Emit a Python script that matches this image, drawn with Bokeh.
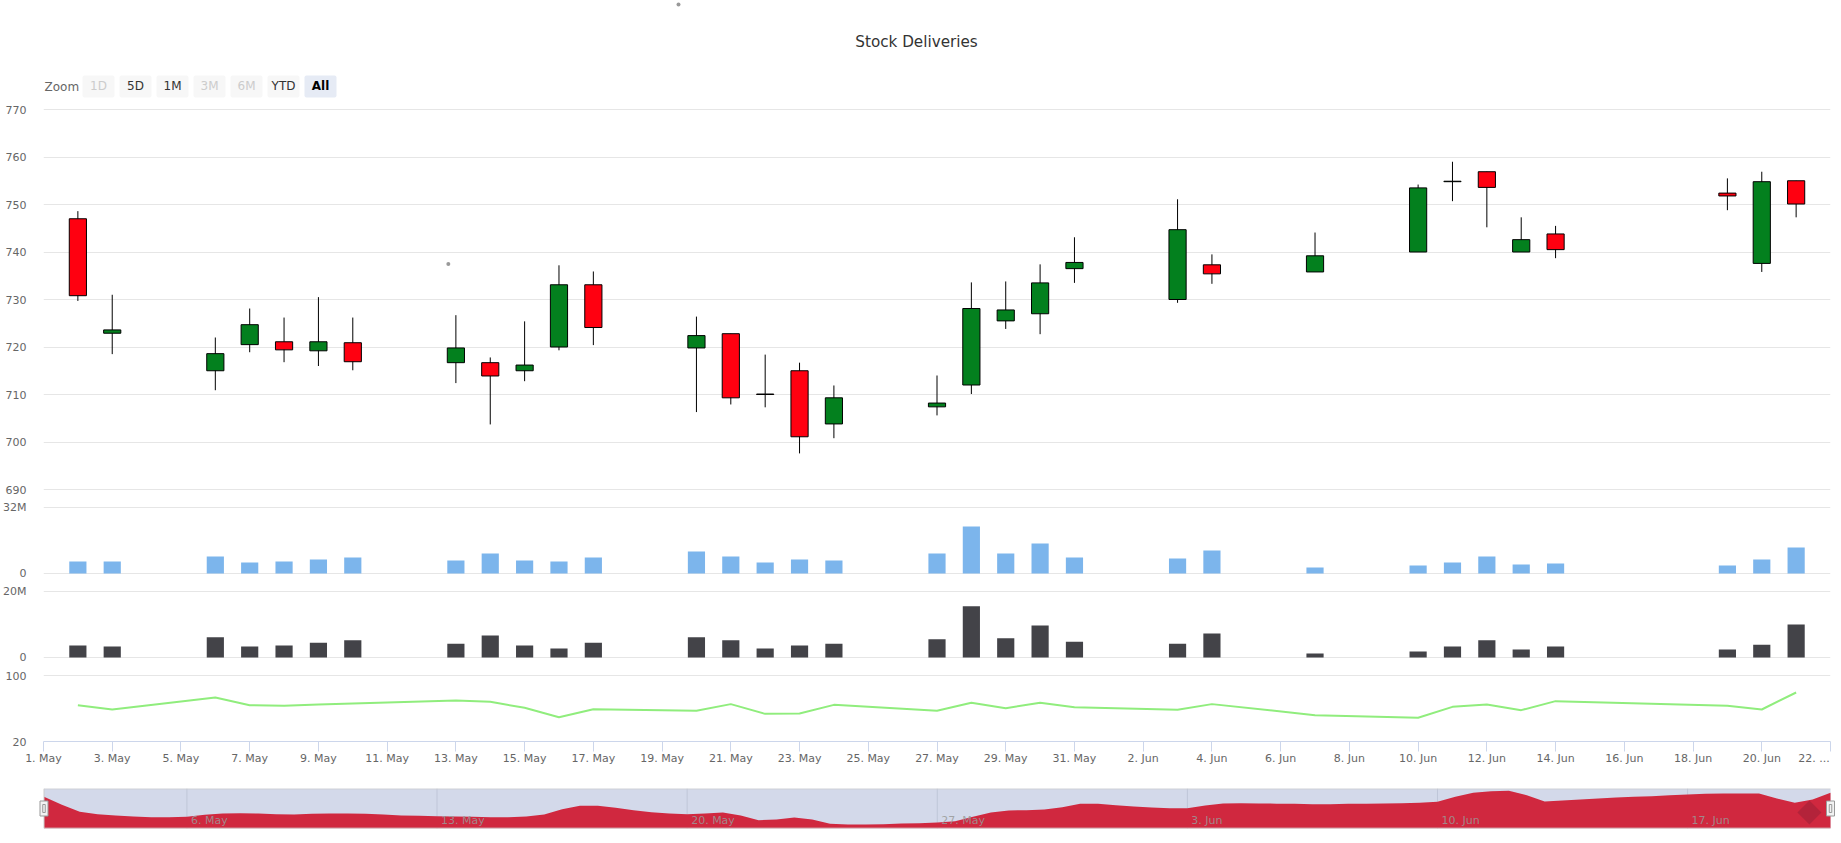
import pandas as pd
from bokeh.core.properties import value
from bokeh.embed import file_html
from bokeh.resources import INLINE
from bokeh.layouts import column
from bokeh.models import Range1d, FixedTicker, LinearAxis
from bokeh.plotting import figure

FONT = "DejaVu Sans"

dates = ["2019-05-02", "2019-05-03", "2019-05-06", "2019-05-07", "2019-05-08", "2019-05-09", "2019-05-10",
         "2019-05-13", "2019-05-14", "2019-05-15", "2019-05-16", "2019-05-17",
         "2019-05-20", "2019-05-21", "2019-05-22", "2019-05-23", "2019-05-24",
         "2019-05-27", "2019-05-28", "2019-05-29", "2019-05-30", "2019-05-31",
         "2019-06-03", "2019-06-04", "2019-06-07",
         "2019-06-10", "2019-06-11", "2019-06-12", "2019-06-13", "2019-06-14",
         "2019-06-19", "2019-06-20", "2019-06-21"]
open_ = [730.8, 723.6, 718.6, 724.7, 719.4, 721.1, 716.9,
         719.8, 713.9, 716.2, 733.1, 724.1,
         722.4, 709.3, 710.0, 701.1, 709.3,
         708.2, 728.1, 727.8, 733.5, 737.8,
         744.7, 735.4, 739.2,
         753.5, 754.9, 753.6, 742.6, 740.5,
         751.8, 754.8, 750.1]
high = [748.6, 731.0, 722.0, 728.1, 726.2, 730.5, 726.2,
        726.7, 717.8, 725.4, 737.2, 735.9,
        726.4, 722.8, 718.4, 716.7, 711.9,
        714.0, 733.6, 733.8, 737.4, 743.1,
        751.1, 739.5, 744.1,
        754.2, 759.0, 756.9, 747.3, 745.5,
        755.5, 756.9, 755.0]
low = [729.7, 718.5, 710.9, 718.9, 716.8, 716.0, 715.1,
       712.4, 703.7, 712.8, 719.3, 720.4,
       706.3, 707.9, 707.3, 697.6, 700.8,
       705.6, 710.1, 723.8, 722.7, 733.5,
       729.3, 733.3, 735.8,
       740.0, 750.7, 745.2, 740.0, 738.7,
       748.8, 735.8, 747.3]
close = [747.0, 722.9, 715.0, 720.5, 721.1, 719.2, 720.9,
         716.7, 716.7, 715.0, 720.0, 733.1,
         719.8, 722.8, 710.1, 715.0, 703.8,
         707.4, 712.0, 725.5, 727.0, 736.5,
         730.0, 737.3, 735.8,
         740.0, 754.8, 756.9, 740.0, 743.8,
         752.4, 737.6, 755.0]
volume_m = [5.8, 5.8, 8.2, 5.3, 5.8, 6.8, 7.8,
            6.3, 9.7, 6.3, 5.8, 7.8,
            10.7, 8.2, 5.3, 6.8, 6.3,
            9.7, 22.8, 9.7, 14.5, 7.8,
            7.3, 11.2, 2.9,
            3.9, 5.3, 8.2, 4.4, 4.8,
            3.9, 6.8, 12.6]
deliveries_m = [3.6, 3.3, 6.1, 3.3, 3.6, 4.5, 5.2,
                4.2, 6.7, 3.6, 2.7, 4.5,
                6.1, 5.2, 2.7, 3.6, 4.2,
                5.5, 15.5, 5.8, 9.7, 4.8,
                4.2, 7.3, 1.2,
                1.8, 3.3, 5.2, 2.4, 3.3,
                2.4, 3.9, 10.0]
delivery_pct = [64.0, 58.8, 73.3, 64.0, 63.2, 64.8, 66.0,
                69.7, 68.1, 60.8, 49.5, 59.2,
                57.2, 65.3, 53.5, 53.9, 64.4,
                57.2, 66.9, 60.4, 66.9, 61.6,
                58.4, 65.3, 51.9,
                48.7, 62.0, 64.8, 58.0, 68.9,
                63.2, 58.8, 79.4]

tick_dates = ["2019-05-01", "2019-05-03", "2019-05-05", "2019-05-07", "2019-05-09", "2019-05-11", "2019-05-13",
              "2019-05-15", "2019-05-17", "2019-05-19", "2019-05-21", "2019-05-23", "2019-05-25", "2019-05-27",
              "2019-05-29", "2019-05-31", "2019-06-02", "2019-06-04", "2019-06-06", "2019-06-08", "2019-06-10",
              "2019-06-12", "2019-06-14", "2019-06-16", "2019-06-18", "2019-06-20", "2019-06-22"]
tick_labels = ["1. May", "3. May", "5. May", "7. May", "9. May", "11. May", "13. May",
               "15. May", "17. May", "19. May", "21. May", "23. May", "25. May", "27. May",
               "29. May", "31. May", "2. Jun", "4. Jun", "6. Jun", "8. Jun", "10. Jun",
               "12. Jun", "14. Jun", "16. Jun", "18. Jun", "20. Jun", "22. ..."]

# navigator outline, read every half day, height above the navigator's floor
nav_dates = pd.date_range("2019-05-02", "2019-06-21", freq="12h").strftime("%Y-%m-%d %H:%M").tolist()
nav_level = [95, 71, 50, 43, 39, 36, 34, 34, 35, 41, 45, 46, 45, 43, 42, 44, 45, 45, 44, 42,
             39, 38, 37, 36, 35, 34, 34, 36, 42, 58, 68, 68, 62, 55, 49, 45, 43, 45, 48, 39,
             25, 27, 33, 27, 14, 12, 12, 13, 15, 16, 18, 22, 35, 48, 54, 55, 57, 64, 74, 74,
             70, 66, 63, 61, 61, 69, 75, 76, 75, 74.5, 74, 73, 73, 74, 74, 75, 76, 77, 80, 95,
             107, 112, 113, 100, 81, 84, 87, 90, 93, 95, 97, 100, 102, 104, 105, 105, 105, 90, 77, 87, 107]
nav_tick_dates = ["2019-05-06", "2019-05-13", "2019-05-20", "2019-05-27", "2019-06-03", "2019-06-10", "2019-06-17"]
nav_tick_labels = ["6. May", "13. May", "20. May", "27. May", "3. Jun", "10. Jun", "17. Jun"]

buttons = ["1D", "5D", "1M", "3M", "6M", "YTD", "All"]
button_enabled = [False, True, True, False, False, True, True]


def ms(values):
    return [int(pd.Timestamp(v).value // 10**6) for v in values]


DAY = 86400000
W = 1841
LEFT, RIGHT = 43, 11
x = ms(dates)
ticks = ms(tick_dates)
shared_x = Range1d(ms(["2019-05-01"])[0], ms(["2019-06-22"])[0])


def panel(height, top, bottom, y0, y1, yticks, labels=None, show_x=False):
    # one pixel of slack above and below keeps the edge grid lines, which Bokeh skips at a range's ends
    span = height - top - bottom
    unit = (y1 - y0) / span
    f = figure(width=W, height=height, output_backend="svg", toolbar_location=None, frame_align=False,
               x_range=shared_x,
               y_range=Range1d(y0 - (0 if show_x else unit), y1 + unit),
               min_border_left=LEFT, min_border_right=RIGHT, min_border_top=top - 1,
               min_border_bottom=bottom - (0 if show_x else 1),
               outline_line_color=None, background_fill_color="white", border_fill_color="white",
               x_axis_location="below" if show_x else None)
    f.xgrid.visible = False
    f.ygrid.grid_line_color = "#e6e6e6"
    f.ygrid.grid_line_width = 1
    f.ygrid.ticker = FixedTicker(ticks=yticks)
    ax = f.yaxis[0]
    ax.ticker = FixedTicker(ticks=yticks)
    if labels:
        ax.major_label_overrides = dict(zip(yticks, labels))
    ax.axis_line_color = None
    ax.major_tick_line_color = None
    ax.minor_tick_line_color = None
    ax.major_tick_out = 0
    ax.major_tick_in = 0
    ax.minor_tick_out = 0
    ax.major_label_standoff = 17
    ax.major_label_text_color = "#666666"
    ax.major_label_text_font = FONT
    ax.major_label_text_font_size = "11px"
    if show_x:
        # first axis: line and tick marks only
        xa = f.xaxis[0]
        xa.ticker = FixedTicker(ticks=ticks)
        xa.major_label_overrides = {t: "" for t in ticks}
        xa.axis_line_color = "#ccd6eb"
        xa.major_tick_line_color = "#ccd6eb"
        xa.major_tick_out = 10
        xa.major_tick_in = 0
        xa.minor_tick_line_color = None
        xa.major_label_standoff = 0
        xa.major_label_text_font_size = "1px"
        # second axis: the texts; the last one sits left of its tick, clear of the chart's edge
        label_pos = ticks[:-1] + [ticks[-1] - int(DAY * 0.48)]
        xb = LinearAxis(ticker=FixedTicker(ticks=label_pos),
                        major_label_overrides=dict(zip(label_pos, tick_labels)),
                        axis_line_color=None, major_tick_line_color=None, minor_tick_line_color=None,
                        major_label_standoff=-6, major_label_text_color="#666666", major_label_text_font=FONT,
                        major_label_text_font_size="11px")
        f.add_layout(xb, "below")
    return f


# header: range selector and title, drawn in pixel coordinates of the page
header = figure(width=W, height=100, output_backend="svg", toolbar_location=None, frame_align=False,
                x_range=Range1d(0, W), y_range=Range1d(100, 0), x_axis_location=None, y_axis_location=None,
                min_border_left=0, min_border_right=0, min_border_top=0, min_border_bottom=0,
                outline_line_color=None, background_fill_color="white", border_fill_color="white")
header.grid.visible = False
header.text([916], [41], text=["Stock Deliveries"], text_align="center", text_baseline="middle",
            text_font=value(FONT), text_font_size="15.2px", text_color="#333333")
header.text([44], [86], text=["Zoom"], text_baseline="middle", text_font=value(FONT), text_font_size="12px",
            text_color="#666666")
bx = [82 + 37 * i for i in range(len(buttons))]
header.quad(left=bx, right=[b + 32 for b in bx], top=[75] * 7, bottom=[97] * 7, border_radius=2,
            fill_color=["#f7f7f7"] * 6 + ["#e6ebf5"], line_color=None)
header.text([b + 16 for b in bx], [85] * 7, text=buttons, text_align="center", text_baseline="middle",
            text_font=value(FONT), text_font_size="12px",
            text_color=[("#333333" if e else "#cccccc") for e in button_enabled[:-1]] + ["#000000"],
            text_font_style=["normal"] * 6 + ["bold"])
header.scatter([678], [4], size=4, fill_color="#999999", line_color=None)

# candlesticks
p1 = panel(398, 9, 9, 690, 770, [690, 700, 710, 720, 730, 740, 750, 760, 770])
colors = ["#ff0010" if c > o else "#03801e" for o, c in zip(open_, close)]
p1.segment(x, high, x, low, line_color="black", line_width=1)
p1.vbar(x=x, width=DAY * 0.5, top=[max(o, c) for o, c in zip(open_, close)],
        bottom=[min(o, c) for o, c in zip(open_, close)], fill_color=colors, line_color="black", line_width=1)
p1.scatter(ms(["2019-05-13"])[0] - DAY * 0.22, [737.5], size=4, fill_color="#999999", line_color=None)

# volume
p2 = panel(84, 9, 9, 0, 32, [0, 32], ["0", "32M"])
p2.vbar(x=x, width=DAY * 0.5, top=volume_m, bottom=0, fill_color="#7cb5ec", line_color=None)

# deliveries
p3 = panel(84, 9, 9, 0, 20, [0, 20], ["0", "20M"])
p3.vbar(x=x, width=DAY * 0.5, top=deliveries_m, bottom=0, fill_color="#434348", line_color=None)

# delivery percent
p4 = panel(114, 9, 39, 20, 100, [20, 100], ["20", "100"], show_x=True)
p4.line(x, delivery_pct, line_color="#90ed7d", line_width=2)

# navigator
nx = ms(nav_dates)
px_per_ms = (1830 - 43.5) / (nx[-1] - nx[0])
nav_x = Range1d(nx[0] - 43.5 / px_per_ms, nx[0] + (W - 43.5) / px_per_ms)
nav_lo, nav_hi = 0, 120
p5 = figure(width=W, height=63, output_backend="svg", toolbar_location=None, frame_align=False, x_range=nav_x,
            y_range=Range1d(nav_lo, nav_hi), x_axis_location=None, y_axis_location=None,
            min_border_left=0, min_border_right=0, min_border_top=8, min_border_bottom=15,
            outline_line_color=None, background_fill_color="white", border_fill_color="white")
p5.grid.visible = False
p5.quad(left=[nx[0]], right=[nx[-1]], bottom=[nav_lo], top=[nav_hi], fill_color="#d3d9ea", line_color=None)
nt = ms(nav_tick_dates)
p5.segment(nt, [nav_lo] * 7, nt, [nav_hi] * 7, line_color="#bfc6d8", line_width=1)
p5.varea(x=nx, y1=[nav_lo] * len(nx), y2=nav_level, fill_color="#d0283f")
p5.text(nt, [25] * 7, text=nav_tick_labels, x_offset=4, text_baseline="middle", text_font=value(FONT),
        text_font_size="11px", text_color="#999999", text_alpha=0.85)
p5.segment([nx[0], nx[0], nx[0]], [nav_lo + 1, nav_hi - 1, nav_lo], [nx[-1], nx[-1], nx[0]],
           [nav_lo + 1, nav_hi - 1, nav_hi], line_color="#cccccc", line_width=1)
p5.scatter([nx[-1] - DAY * 0.59], [48], marker="square", size=17, angle=0.785, fill_color="#b3233a",
           line_color=None)
p5.rect([nx[0], nx[-1]], [60, 60], width=8, height=15, width_units="screen", height_units="screen",
        fill_color="#f2f2f2", line_color="#999999", line_width=1)
p5.rect([nx[0], nx[-1]], [60, 60], width=2.5, height=8, width_units="screen", height_units="screen",
        fill_color=None, line_color="#999999", line_width=1)

layout = column(header, p1, p2, p3, p4, p5, spacing=0)
open("out.html", "w").write(file_html(layout, INLINE))
